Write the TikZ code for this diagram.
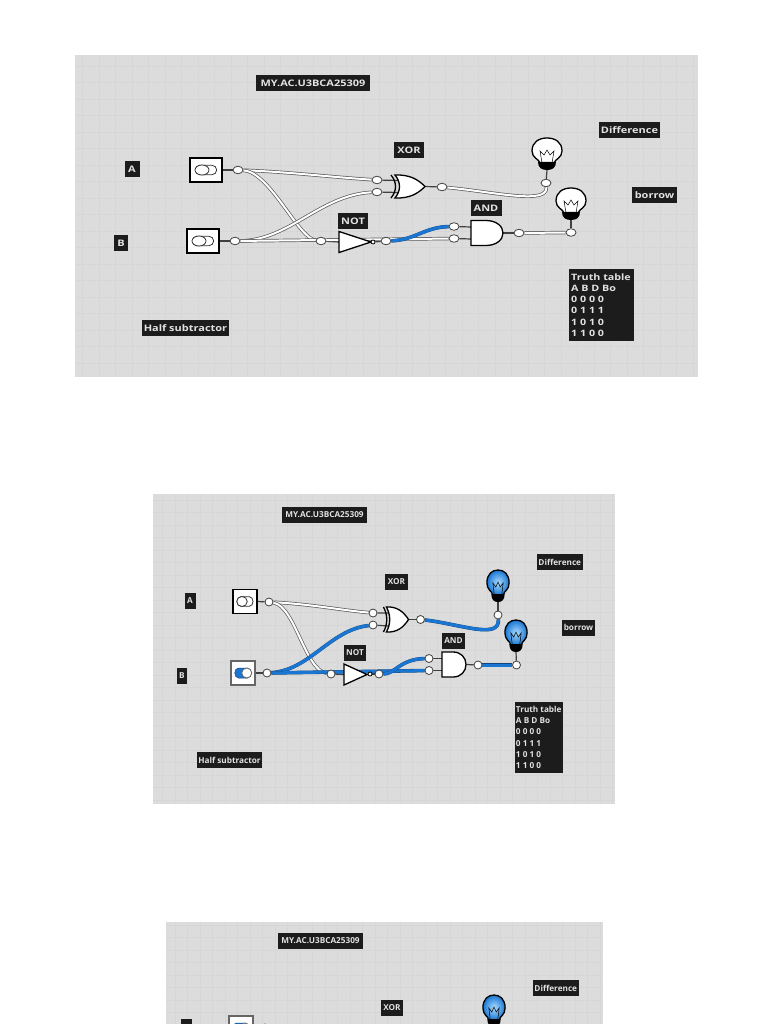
\documentclass[tikz,border=0pt]{standalone}
\usepackage{fontspec}
\usetikzlibrary{shapes.geometric}
\newfontfamily\widefont[FakeStretch=1.22]{Open Sans}
\newfontfamily\plainfont{Open Sans}
\definecolor{boardgray}{RGB}{220, 220, 220}
\definecolor{gridgray}{RGB}{214, 214, 214}
\definecolor{tagblack}{RGB}{28, 28, 28}
\definecolor{tagwhite}{RGB}{226, 226, 226}
\definecolor{liveblue}{RGB}{25, 118, 210}
\definecolor{liveedge}{RGB}{20, 70, 125}
\definecolor{glassblue}{RGB}{170, 220, 255}
\pgfdeclarelayer{board}
\pgfdeclarelayer{wires}
\pgfsetlayers{board,wires,main}
\tikzset{
  x=1pt, y=-1pt,
  boardgrid/.style={draw=gridgray, line width=.5pt},
  nametag/.style={fill=tagblack, text=tagwhite, inner sep=0pt, minimum height=16pt},
  widetag/.style={nametag, font=\widefont\bfseries\fontsize{9}{10}\selectfont},
  smalltag/.style={nametag, font=\plainfont\bfseries\fontsize{8.2}{9}\selectfont},
  tablewide/.style={fill=tagblack, text=tagwhite, inner sep=0pt, align=left, font=\widefont\bfseries\fontsize{8.8}{11.3}\selectfont},
  tablesmall/.style={fill=tagblack, text=tagwhite, inner sep=0pt, align=left, font=\plainfont\bfseries\fontsize{8.2}{11.3}\selectfont},
  portwide/.style={ellipse, draw=black!75, fill=white, line width=.8pt, inner sep=0pt, minimum width=10pt, minimum height=7.5pt},
  port/.style={ellipse, draw=black!75, fill=white, line width=.8pt, inner sep=0pt, minimum size=8pt},
  bubble/.style={circle, draw=black, fill=white, line width=.8pt, inner sep=0pt, minimum size=4pt},
  stub/.style={draw=black!75, line width=1.2pt},
  wireoff/.style={draw=black!65, double=white, line width=.7pt, double distance=2pt},
  wireon/.style={draw=liveedge, double=liveblue, line width=.3pt, double distance=3pt},
  glassoff/.style={fill=white},
  glasson/.style={inner color=glassblue, outer color=liveblue},
  % gates, drawn round their centre
  xorgate/.pic={
    \draw[black, line width=1.3pt, fill=white] (-13,-11.5) .. controls (-7,-4) and (-7,4) .. (-13,11.5)
       .. controls (2,12) and (10,7) .. (17,0) .. controls (10,-7) and (2,-12) .. (-13,-11.5) -- cycle;
    \draw[black, line width=1.3pt] (-17,-11.5) .. controls (-11,-4) and (-11,4) .. (-17,11.5);
    \coordinate (-in1) at (-9.6,-6);
    \coordinate (-in2) at (-9.6,6);
    \coordinate (-out) at (17,0);
  },
  andgate/.pic={
    \draw[black, line width=1.3pt, fill=white] (-16,-12.5) -- (-1,-12.5) .. controls (9,-12.5) and (16,-7) .. (16,0)
       .. controls (16,7) and (9,12.5) .. (-1,12.5) -- (-16,12.5) -- cycle;
    \coordinate (-in1) at (-16,-6);
    \coordinate (-in2) at (-16,6);
    \coordinate (-out) at (16,0);
  },
  notgate/.pic={
    \draw[black, line width=1.3pt, fill=white] (-16,-10.5) -- (16,0) -- (-16,10.5) -- cycle;
    \coordinate (-in) at (-16,0);
    \coordinate (-out) at (16,0);
  },
  % lamp, origin on top of the glass
  lamp/.pic={
    \draw[black, line width=1.3pt, #1] (-7,25) .. controls (-8,21) and (-15,20) .. (-15,13)
       .. controls (-15,4) and (-8,0) .. (0,0) .. controls (8,0) and (15,4) .. (15,13)
       .. controls (15,20) and (8,21) .. (7,25) -- cycle;
    \draw[black, line width=.5pt] (-5,25) -- (-7,13) -- (-3,17) -- (0,12) -- (3,17) -- (7,13) -- (5,25);
    \fill[black] (-9,24) -- (9,24) .. controls (9,30) and (5,32) .. (0,32) .. controls (-5,32) and (-9,30) .. (-9,24) -- cycle;
    \coordinate (-base) at (0,32);
  },
  toggleoff/.pic={
    \draw[black, line width=1.1pt, fill=white] (-16,-12) rectangle (16,12);
    \draw[black!80, line width=.8pt, fill=white] (-6,-4.7) -- (6,-4.7) arc (-90:90:4.7) -- (-6,4.7) arc (90:270:4.7) -- cycle;
    \draw[black!80, line width=.8pt, fill=white] (-4,0) ellipse (7 and 5);
    \coordinate (-out) at (16,0);
  },
  toggleon/.pic={
    \draw[black!60, line width=1.1pt, fill=white] (-16,-12) rectangle (16,12);
    \draw[liveedge, line width=.5pt, fill=liveblue] (-6,-5) -- (6,-5) arc (-90:90:5) -- (-6,5) arc (90:270:5) -- cycle;
    \draw[black!60, line width=.8pt, fill=white] (5,0) ellipse (6.7 and 5);
    \coordinate (-out) at (16,0);
  },
}
\begin{document}
\begin{tikzpicture}
  \useasboundingbox (0,0) rectangle (768,1024);
  \begin{pgfonlayer}{board}
    \fill[boardgray] (75,55) rectangle (698,377);
    \draw[boardgrid, step=16.5pt] (75,55) grid (698,377);
    \fill[boardgray] (153,494) rectangle (615,804);
    \draw[boardgrid, step=12.5pt] (153,494) grid (615,804);
    \fill[boardgray] (166,922) rectangle (603,1024);
    \draw[boardgrid, step=12.5pt] (166,922) grid (603,1024);
  \end{pgfonlayer}

  % first board, all off
  \node[widetag, minimum width=114pt] (title1) at (313,83) {MY.AC.U3BCA25309};
  \node[widetag, minimum width=15pt] (tagA1) at (132,169) {A};
  \node[widetag, minimum width=14pt] (tagB1) at (121,243) {B};
  \node[widetag, minimum width=87pt] (tagHalf1) at (185.5,328) {Half subtractor};
  \node[widetag, minimum width=30pt] (tagXor1) at (409,150) {XOR};
  \node[widetag, minimum width=30pt] (tagNot1) at (353,221) {NOT};
  \node[widetag, minimum width=31pt] (tagAnd1) at (486,208) {AND};
  \node[widetag, minimum width=61pt] (tagDiff1) at (629.5,130) {Difference};
  \node[widetag, minimum width=45pt] (tagBorrow1) at (654.5,195) {borrow};
  \node[tablewide, minimum width=65pt, minimum height=72pt] (table1) at (601,305)
    {Truth table\\A B D Bo\\0 0 0 0\\0 1 1 1\\1 0 1 0\\1 1 0 0};
  \pic (swA1) at (206,170) {toggleoff};
  \pic (swB1) at (203,241) {toggleoff};
  \pic (xor1) at (408,186.5) {xorgate};
  \pic (not1) at (355,242) {notgate};
  \pic (and1) at (487,233) {andgate};
  \pic (lampD1) at (547,138) {lamp=glassoff};
  \pic (lampB1) at (571,188) {lamp=glassoff};
  \node[portwide] (pA1) at (238,170) {};
  \node[portwide] (pB1) at (235,241) {};
  \node[portwide] (xorA1) at (377,180) {};
  \node[portwide] (xorB1) at (377,192) {};
  \node[portwide] (notIn1) at (321,241) {};
  \node[bubble] (notBub1) at (373,242) {};
  \node[portwide] (notOut1) at (386,241) {};
  \node[portwide] (andA1) at (454,226.5) {};
  \node[portwide] (andB1) at (454,238.5) {};
  \node[portwide] (xorOut1) at (442,187) {};
  \node[portwide] (andOut1) at (519,233) {};
  \node[portwide] (lampInD1) at (546,183) {};
  \node[portwide] (lampInB1) at (571,232.5) {};
  \begin{pgfonlayer}{wires}
    \draw[stub] (swA1-out) -- (pA1);
    \draw[stub] (swB1-out) -- (pB1);
    \draw[stub] (xorA1) -- (xor1-in1);
    \draw[stub] (xorB1) -- (xor1-in2);
    \draw[stub] (notIn1) -- (not1-in);
    \draw[stub] (not1-out) -- (notBub1);
    \draw[stub] (notBub1) -- (notOut1);
    \draw[stub] (andA1) -- (and1-in1);
    \draw[stub] (andB1) -- (and1-in2);
    \draw[stub] (xor1-out) -- (xorOut1);
    \draw[stub] (and1-out) -- (andOut1);
    \draw[stub] (lampInD1) -- (lampD1-base);
    \draw[stub] (lampInB1) -- (lampB1-base);
    \draw[wireoff] (pA1) .. controls (290,172) and (330,177) .. (xorA1);
    \draw[wireoff] (pA1) .. controls (270,172) and (298,238) .. (notIn1);
    \draw[wireoff] (pB1) .. controls (290,240) and (320,195) .. (xorB1);
    \draw[wireoff] (pB1) -- (andB1);
    \draw[wireon] (notOut1) .. controls (415,240) and (425,227) .. (andA1);
    \draw[wireoff] (xorOut1) .. controls (495,192) and (548,205) .. (lampInD1);
    \draw[wireoff] (andOut1) -- (lampInB1);
  \end{pgfonlayer}

  % second board, B on
  \node[smalltag, minimum width=85pt] (title2) at (324.5,515) {MY.AC.U3BCA25309};
  \node[smalltag, minimum width=11pt] (tagA2) at (190,601) {A};
  \node[smalltag, minimum width=10pt] (tagB2) at (182,676) {B};
  \node[smalltag, minimum width=65pt] (tagHalf2) at (229.5,760) {Half subtractor};
  \node[smalltag, minimum width=22.5pt] (tagXor2) at (396.5,582) {XOR};
  \node[smalltag, minimum width=22pt] (tagNot2) at (355,653) {NOT};
  \node[smalltag, minimum width=23pt] (tagAnd2) at (453.5,640.5) {AND};
  \node[smalltag, minimum width=46.5pt] (tagDiff2) at (559.75,562) {Difference};
  \node[smalltag, minimum width=33pt] (tagBorrow2) at (578.5,627.5) {borrow};
  \node[tablesmall, minimum width=48.5pt, minimum height=71pt] (table2) at (538.75,737.5)
    {Truth table\\A B D Bo\\0 0 0 0\\0 1 1 1\\1 0 1 0\\1 1 0 0};
  \pic[xscale=.75] (swA2) at (245,601.5) {toggleoff};
  \pic[xscale=.75] (swB2) at (243,673) {toggleon};
  \pic[xscale=.74, yscale=1.09] (xor2) at (396,619.5) {xorgate};
  \pic[xscale=.72] (not2) at (355.5,674.5) {notgate};
  \pic[xscale=.75] (and2) at (454,664.5) {andgate};
  \pic[xscale=.74] (lampD2) at (498,570) {lamp=glasson};
  \pic[xscale=.74] (lampB2) at (516,620) {lamp=glasson};
  \node[port] (pA2) at (269,602) {};
  \node[port] (pB2) at (267,673) {};
  \node[port] (xorA2) at (373,613) {};
  \node[port] (xorB2) at (373,625) {};
  \node[port] (notIn2) at (331,674) {};
  \node[bubble] (notBub2) at (370,674) {};
  \node[port] (notOut2) at (379,674) {};
  \node[port] (andA2) at (429,658.5) {};
  \node[port] (andB2) at (429,670.5) {};
  \node[port] (xorOut2) at (420.5,619.5) {};
  \node[port] (andOut2) at (478,665) {};
  \node[port] (lampInD2) at (498,615) {};
  \node[port] (lampInB2) at (516.5,665) {};
  \begin{pgfonlayer}{wires}
    \draw[stub] (swA2-out) -- (pA2);
    \draw[stub] (swB2-out) -- (pB2);
    \draw[stub] (xorA2) -- (xor2-in1);
    \draw[stub] (xorB2) -- (xor2-in2);
    \draw[stub] (notIn2) -- (not2-in);
    \draw[stub] (not2-out) -- (notBub2);
    \draw[stub] (notBub2) -- (notOut2);
    \draw[stub] (andA2) -- (and2-in1);
    \draw[stub] (andB2) -- (and2-in2);
    \draw[stub] (xor2-out) -- (xorOut2);
    \draw[stub] (and2-out) -- (andOut2);
    \draw[stub] (lampInD2) -- (lampD2-base);
    \draw[stub] (lampInB2) -- (lampB2-base);
    \draw[wireoff] (pA2) .. controls (310,604) and (340,610) .. (xorA2);
    \draw[wireoff] (pA2) .. controls (295,606) and (305,670) .. (notIn2);
    \draw[wireon] (pB2) .. controls (310,670) and (330,630) .. (xorB2);
    \draw[wireon] (pB2) -- (andB2);
    \draw[wireon] (notOut2) .. controls (395,674) and (400,659) .. (andA2);
    \draw[wireon] (xorOut2) .. controls (460,624) and (500,640) .. (lampInD2);
    \draw[wireon] (andOut2) -- (lampInB2);
  \end{pgfonlayer}

  % third board, cut by the page
  \node[smalltag, minimum width=85pt] (title3) at (320.5,941) {MY.AC.U3BCA25309};
  \node[smalltag, minimum width=22pt] (tagXor3) at (392,1008) {XOR};
  \node[smalltag, minimum width=46.5pt] (tagDiff3) at (555.75,988) {Difference};
  \node[smalltag, minimum width=11pt] (tagA3) at (186.5,1027) {};
  \pic[xscale=.75] (swA3) at (241,1028) {toggleon};
  \pic[xscale=.74] (lampD3) at (494,995) {lamp=glasson};
  \node[port] (pA3) at (265,1028) {};
  \begin{pgfonlayer}{wires}
    \draw[stub] (swA3-out) -- (pA3);
  \end{pgfonlayer}
\end{tikzpicture}
\end{document}
